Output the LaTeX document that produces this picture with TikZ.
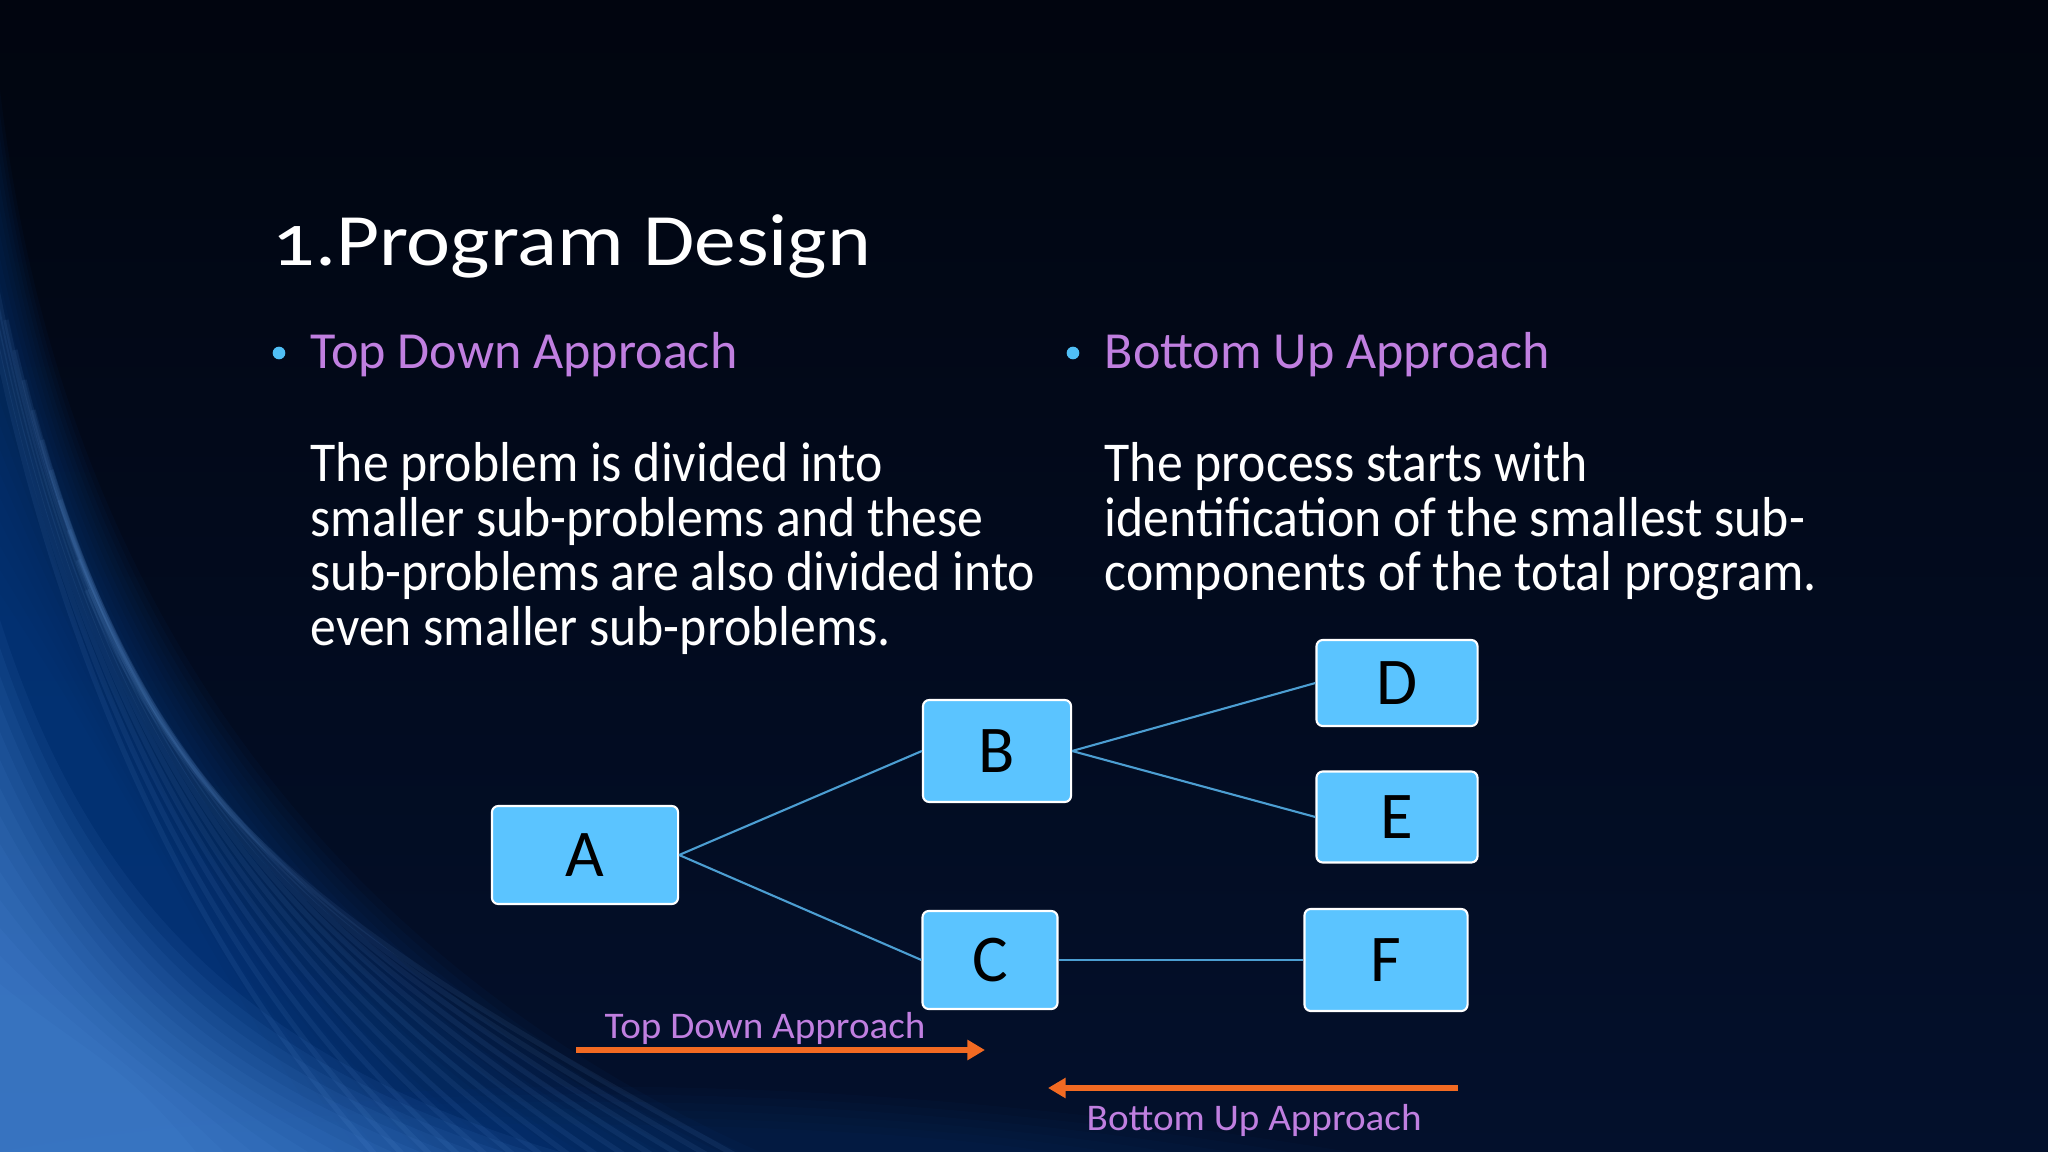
\documentclass[tikz,border=0pt]{standalone}
\usepackage{fontspec}
\setmainfont{Carlito}
\newfontfamily\titlefont[Numbers=OldStyle, FakeStretch=1.13]{Carlito}
\newfontfamily\bodyfont[FakeStretch=0.92]{Carlito}
\newfontfamily\flowfont[FakeStretch=1.04]{Carlito}
\usepackage{xcolor}
\usepackage{tikz}
\usetikzlibrary{arrows.meta, positioning}
\definecolor{bgtop}{HTML}{01050F}
\definecolor{bgbottom}{HTML}{03102C}
\definecolor{swooshcolor}{HTML}{134A9C}
\definecolor{glowcolor}{HTML}{5C9DF0}
\definecolor{streakcolor}{HTML}{7AB2F5}
\definecolor{headcolor}{HTML}{C07FE0}
\definecolor{bulletcolor}{HTML}{50BFF5}
\definecolor{boxcolor}{HTML}{5BC4FF}
\definecolor{linkcolor}{HTML}{4C9ED2}
\definecolor{flowcolor}{HTML}{F26A22}
\newcommand\tightlines{\lineskiplimit-20pt\relax}

\begin{document}
\begin{tikzpicture}[x=0.01cm, y=-0.01cm,
    treebox/.style 2 args={draw=white, line width=0.6pt, fill=boxcolor, rounded corners=1.8pt,
        minimum width=#1, minimum height=#2, inner sep=0pt, text=black, font=\fontsize{19}{20}\selectfont},
    link/.style={draw=linkcolor, line width=0.6pt},
    flow/.style={draw=flowcolor, line width=1.7pt, -{Triangle[length=5pt, width=5.5pt]}},
    headtext/.style={text=headcolor, inner sep=0pt, font=\fontsize{14.8}{16}\selectfont},
    bodytext/.style={text=white, inner sep=0pt, align=left,
        font=\bodyfont\fontsize{16}{15.5}\selectfont\tightlines},
    flowtext/.style={text=headcolor, inner sep=0pt, font=\flowfont\fontsize{10.7}{12}\selectfont}]

    % Background
    \useasboundingbox (0,0) rectangle (2048,1152);
    \shade[top color=bgtop, bottom color=bgbottom] (0,0) rectangle (2048,1152);
    \foreach \k in {0,...,5} {
        \fill[swooshcolor, opacity=0.04] (0,1152) .. controls (350,1060+10*\k) and (850,1070+10*\k) .. (1350-60*\k,1152) -- cycle;
    }
    \foreach \k in {0,...,21} {
        \fill[swooshcolor, opacity=0.055] (0,90+24*\k) .. controls (60+4*\k,600+10*\k) and (330-6*\k,960) .. (760-20*\k,1152) -- (0,1152) -- cycle;
    }
    \foreach \k in {0,...,13} {
        \fill[glowcolor, opacity=0.07] (0,620+28*\k) .. controls (90,900+12*\k) and (250-10*\k,1060) .. (560-28*\k,1152) -- (0,1152) -- cycle;
    }
    \foreach \s in {0,...,13} {
        \draw[streakcolor, opacity=0.08, line width=1.5pt] (-30+9*\s,200+30*\s) .. controls (40+12*\s,650+15*\s) and (200+14*\s,960) .. (380+28*\s,1160);
    }

    % Title and columns
    \node[text=white, inner sep=0pt, anchor=base west, font=\titlefont\fontsize{21}{24}\selectfont] (title) at (272,266) {1.Program Design};

    \fill[bulletcolor] (279,353) circle (1.8pt);
    \node[headtext, anchor=base west] (tdhead) at (310,369) {Top Down Approach};
    \fill[bulletcolor] (1073,353) circle (1.8pt);
    \node[headtext, anchor=base west] (buhead) at (1104,369) {Bottom Up Approach};

    \node[bodytext, anchor=north west] (tdbody) at (310,442) {The problem is divided into\\smaller sub-problems and these\\sub-problems are also divided into\\even smaller sub-problems.};
    \node[bodytext, anchor=north west] (bubody) at (1104,442) {The process starts with\\identification of the smallest sub-\\components of the total program.};

    % Tree
    \node[treebox={1.86cm}{0.98cm}] (A) at (585,855) {A};
    \node[treebox={1.48cm}{1.02cm}] (B) at (997,751) {B};
    \node[treebox={1.35cm}{0.98cm}] (C) at (990,960) {C};
    \node[treebox={1.61cm}{0.86cm}] (D) at (1397,683) {D};
    \node[treebox={1.61cm}{0.91cm}] (E) at (1397,817) {E};
    \node[treebox={1.63cm}{1.02cm}] (F) at (1386,960) {F};

    \draw[link] (A.east) -- (B.west);
    \draw[link] (A.east) -- (C.west);
    \draw[link] (B.east) -- (D.west);
    \draw[link] (B.east) -- (E.west);
    \draw[link] (C.east) -- (F.west);

    % Direction arrows
    \coordinate (tdstart) at (576,1050);
    \coordinate (tdend) at (985,1050);
    \coordinate (bustart) at (1458,1088);
    \coordinate (buend) at (1048,1088);
    \draw[flow] (tdstart) -- (tdend);
    \draw[flow] (bustart) -- (buend);
    \node[flowtext, anchor=base west] (tdlabel) at (604,1038) {Top Down Approach};
    \node[flowtext, anchor=base west] (bulabel) at (1086,1130) {Bottom Up Approach};

\end{tikzpicture}
\end{document}
